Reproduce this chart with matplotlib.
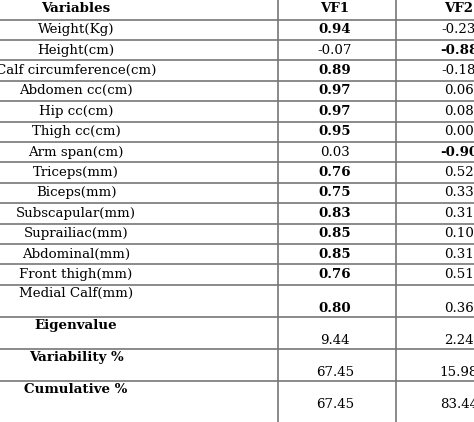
import matplotlib
matplotlib.use("Agg")
from matplotlib import pyplot as plt

variables = ['Weight(Kg)', 'Height(cm)', 'Calf circumference(cm)', 'Abdomen cc(cm)',
             'Hip cc(cm)', 'Thigh cc(cm)', 'Arm span(cm)', 'Triceps(mm)', 'Biceps(mm)',
             'Subscapular(mm)', 'Suprailiac(mm)', 'Abdominal(mm)', 'Front thigh(mm)',
             'Medial Calf(mm)']
vf1 = ['0.94', '-0.07', '0.89', '0.97', '0.97', '0.95', '0.03', '0.76', '0.75',
       '0.83', '0.85', '0.85', '0.76', '0.80']
vf2 = ['-0.23', '-0.88', '-0.18', '0.06', '0.08', '0.00', '-0.90', '0.52', '0.33',
       '0.31', '0.10', '0.31', '0.51', '0.36']
vf1_bold = [True, False, True, True, True, True, False, True, True, True, True, True, True, True]
vf2_bold = [False, True, False, False, False, False, True, False, False, False, False, False, False, False]
summary_labels = ['Eigenvalue', 'Variability %', 'Cumulative %']
summary_vf1 = ['9.44', '67.45', '67.45']
summary_vf2 = ['2.24', '15.98', '83.44']

W, H = 474, 422
fig = plt.figure(figsize=(W / 100, H / 100), dpi=100)
ax = fig.add_axes([0, 0, 1, 1])
ax.set_xlim(0, W)
ax.set_ylim(H, 0)
ax.axis('off')

fs = 9.6
font = 'DejaVu Serif'
x_var, x1, x2 = 76, 335, 459
line_kw = dict(color='#777777', lw=1.2)

# header
ax.text(x_var, 9, 'Variables', ha='center', va='center', fontsize=fs, fontweight='bold', family=font)
ax.text(x1, 9, 'VF1', ha='center', va='center', fontsize=fs, fontweight='bold', family=font)
ax.text(x2, 9, 'VF2', ha='center', va='center', fontsize=fs, fontweight='bold', family=font)

top = 19.5
rh = 20.4
ax.plot([0, W], [top, top], **line_kw)
for i in range(13):
    yc = top + rh * (i + 0.5)
    ax.text(x_var, yc, variables[i], ha='center', va='center', fontsize=fs, family=font)
    ax.text(x1, yc, vf1[i], ha='center', va='center', fontsize=fs, family=font,
            fontweight='bold' if vf1_bold[i] else 'normal')
    ax.text(x2, yc, vf2[i], ha='center', va='center', fontsize=fs, family=font,
            fontweight='bold' if vf2_bold[i] else 'normal')
    ax.plot([0, W], [top + rh * (i + 1)] * 2, **line_kw)

# tall rows: label on top, value at bottom
y0 = top + rh * 13
tall = 32
labels = [variables[13]] + summary_labels
v1 = [vf1[13]] + summary_vf1
v2 = [vf2[13]] + summary_vf2
b1 = [vf1_bold[13], False, False, False]
for j in range(4):
    ys = y0 + tall * j
    ax.text(x_var, ys + 9, labels[j], ha='center', va='center', fontsize=fs,
            family=font, fontweight='normal' if j == 0 else 'bold')
    ax.text(x1, ys + 24, v1[j], ha='center', va='center', fontsize=fs, family=font,
            fontweight='bold' if b1[j] else 'normal')
    ax.text(x2, ys + 24, v2[j], ha='center', va='center', fontsize=fs, family=font)
    if j < 3:
        ax.plot([0, W], [ys + tall] * 2, **line_kw)

ax.plot([278, 278], [0, H], **line_kw)
ax.plot([396, 396], [0, H], **line_kw)

fig.savefig('out.png', dpi=100)
